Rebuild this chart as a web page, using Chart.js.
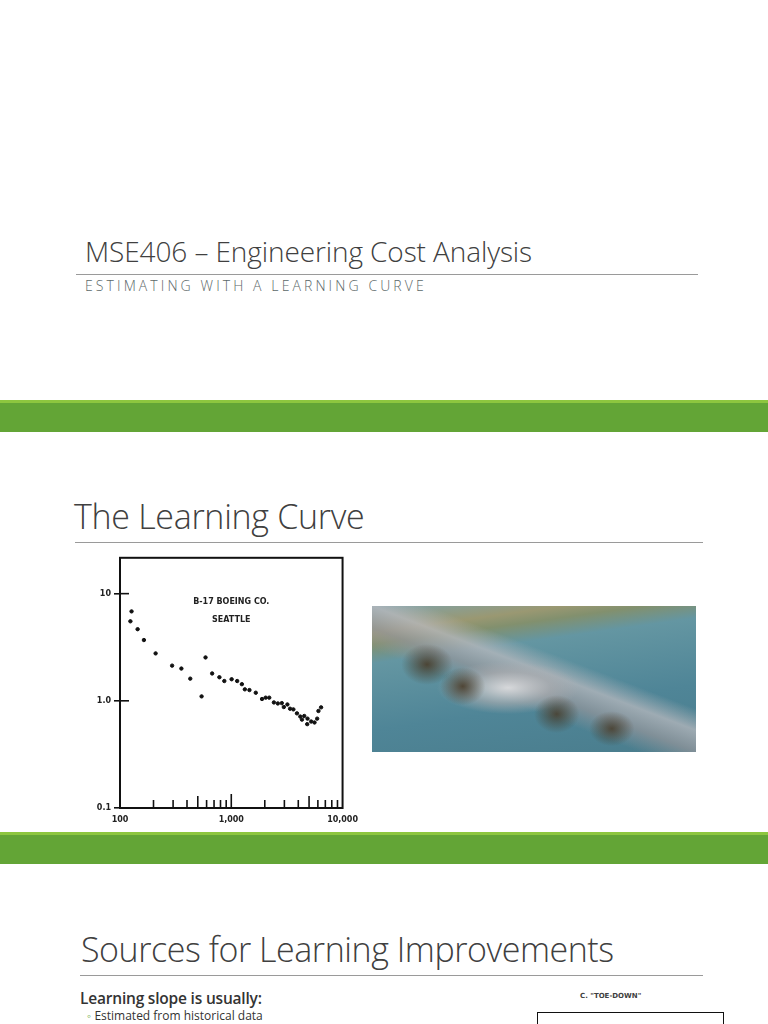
<!DOCTYPE html>
<html>
<head>
<meta charset="utf-8">
<script src="https://cdn.jsdelivr.net/npm/chart.js@4.4.1/dist/chart.umd.min.js"></script>
<style>
  html, body { margin: 0; padding: 0; background: #fff; }
  body { width: 768px; height: 1024px; position: relative; overflow: hidden; font-family: "Open Sans", sans-serif; color: #404040; }
  .abs { position: absolute; white-space: nowrap; }
  .rule { position: absolute; height: 1px; background: #9a9a9a; }
  .band { position: absolute; left: 0; width: 768px; height: 32px; background: #63a536; border-top: 3px solid #8dc63f; box-sizing: border-box; }
  #chartBox { position: absolute; left: 75px; top: 550px; width: 290px; height: 285px; }
  #photo { position: absolute; left: 372px; top: 606px; width: 324px; height: 146px;
    background:
      radial-gradient(ellipse 8% 14% at 17% 40%, rgba(70,55,35,0.85), transparent 100%),
      radial-gradient(ellipse 7% 13% at 28% 55%, rgba(70,55,35,0.85), transparent 100%),
      radial-gradient(ellipse 7% 13% at 57% 74%, rgba(70,55,35,0.8), transparent 100%),
      radial-gradient(ellipse 7% 12% at 74% 84%, rgba(70,55,35,0.8), transparent 100%),
      radial-gradient(ellipse 22% 18% at 42% 56%, rgba(220,220,222,0.95), rgba(175,175,178,0.6) 60%, transparent 100%),
      linear-gradient(201deg, transparent 38%, rgba(185,185,190,0.75) 46%, rgba(150,150,155,0.7) 54%, transparent 62%),
      linear-gradient(172deg, #7ea3ab 0%, #9a9872 14%, #82906e 20%, #6496a2 30%, #4f8597 65%, #4a7d8d 100%); }
</style>
</head>
<body>
  <div class="abs" style="left:85px; top:232px; font-size:28px; font-weight:300; letter-spacing:-0.1px;">MSE406 – Engineering Cost Analysis</div>
  <div class="rule" style="left:76px; top:274px; width:622px;"></div>
  <div class="abs" style="left:85px; top:276px; font-size:14px; font-weight:300; letter-spacing:3.1px; color:#5b6868;">ESTIMATING WITH A LEARNING CURVE</div>

  <div class="band" style="top:400px;"></div>

  <div class="abs" style="left:74px; top:493px; font-size:34px; font-weight:300; letter-spacing:-0.3px;">The Learning Curve</div>
  <div class="rule" style="left:75px; top:542px; width:628px;"></div>

  <div id="chartBox"><canvas id="grafico"></canvas></div>
  <div id="photo"></div>

  <div class="band" style="top:832px;"></div>

  <div class="abs" style="left:81px; top:926px; font-size:34px; font-weight:300; letter-spacing:-0.45px;">Sources for Learning Improvements</div>
  <div class="rule" style="left:80px; top:975px; width:623px;"></div>
  <div class="abs" style="left:80px; top:989px; font-size:15.5px; line-height:18px; font-weight:600; letter-spacing:-0.2px; color:#333;">Learning slope is usually:</div>
  <div class="abs" style="left:87px; top:1008px; font-size:12px; line-height:15px; color:#333;"><span style="color:#63a536;">◦</span> Estimated from historical data</div>
  <div class="abs" style="left:580px; top:992px; font-size:7px; font-weight:bold; font-family:'DejaVu Sans';">C. "TOE-DOWN"</div>
  <div class="abs" style="left:537px; top:1012px; width:185px; height:30px; border:1.5px solid #111;"></div>

<script>
// unidades produzidas (eixo x) e custo relativo (eixo y)
const unidades = [124, 127, 144, 164, 209, 294, 356, 428, 541, 587,
    673, 782, 866, 1007, 1130, 1245, 1324, 1456, 1660, 1889,
    2036, 2194, 2415, 2620, 2844, 2965, 3193, 3374, 3614, 3892,
    4169, 4315, 4528, 4812, 4845, 5224, 5597, 5913, 6071, 6412];
const custos = [5.52, 6.83, 4.66, 3.69, 2.77, 2.13, 2.0, 1.61, 1.10, 2.54,
    1.80, 1.66, 1.53, 1.59, 1.53, 1.43, 1.28, 1.26, 1.19, 1.04,
    1.07, 1.07, 0.966, 0.945, 0.952, 0.875, 0.925, 0.844, 0.832, 0.764,
    0.713, 0.668, 0.722, 0.606, 0.682, 0.641, 0.628, 0.682, 0.804, 0.869];

const ticksX = [100, 200, 300, 400, 500, 600, 700, 800, 900,
    1000, 2000, 3000, 4000, 5000, 6000, 7000, 8000, 9000, 10000];
const rotulosX = { 100: '100', 1000: '1,000', 10000: '10,000' };
const ticksY = [0.1, 1, 10];
const rotulosY = { 0.1: '0.1', 1: '1.0', 10: '10' };
const titulo = ['B-17 BOEING CO.', 'SEATTLE'];

const pontos = unidades.map((u, i) => ({ x: u, y: custos[i] }));

const fonteEixo = { family: 'DejaVu Sans', size: 8, weight: 'bold' };

// moldura, tracos internos e titulo dentro do grafico
const moldura = {
    id: 'moldura',
    afterDraw(chart) {
        const { ctx, chartArea: a, scales } = chart;
        ctx.save();
        ctx.strokeStyle = '#111';
        ctx.lineWidth = 2;
        ctx.strokeRect(a.left, a.top, a.right - a.left, a.bottom - a.top);

        ctx.lineWidth = 1.6;
        ticksY.forEach(v => {
            const y = scales.y.getPixelForValue(v);
            ctx.beginPath();
            ctx.moveTo(a.left, y);
            ctx.lineTo(a.left + 9, y);
            ctx.stroke();
        });
        ticksX.forEach(v => {
            if (v === 100 || v === 10000) return;
            const x = scales.x.getPixelForValue(v);
            let h = 8;
            if (v === 1000) h = 14;
            else if (v === 500 || v === 5000) h = 12;
            ctx.beginPath();
            ctx.moveTo(x, a.bottom);
            ctx.lineTo(x, a.bottom - h);
            ctx.stroke();
        });

        ctx.fillStyle = '#222';
        ctx.font = 'bold 8px "DejaVu Sans"';
        ctx.textAlign = 'center';
        ctx.textBaseline = 'middle';
        const cx = (a.left + a.right) / 2;
        ctx.fillText(titulo[0], cx, a.top + 44);
        ctx.fillText(titulo[1], cx, a.top + 62);
        ctx.restore();
    }
};

const ctxGrafico = document.getElementById('grafico').getContext('2d');
const grafico = new Chart(ctxGrafico, {
    type: 'scatter',
    data: {
        datasets: [{
            data: pontos,
            backgroundColor: '#111',
            borderColor: '#111',
            pointRadius: 1.7,
            pointHoverRadius: 1.7
        }]
    },
    options: {
        responsive: true,
        maintainAspectRatio: false,
        animation: false,
        layout: { padding: { top: 5, right: 20, left: 0, bottom: 0 } },
        plugins: { legend: { display: false }, tooltip: { enabled: false } },
        scales: {
            x: {
                type: 'logarithmic',
                min: 100,
                max: 10000,
                afterBuildTicks: s => { s.ticks = ticksX.map(v => ({ value: v })); },
                afterFit: s => { s.height = 27; },
                grid: { drawOnChartArea: false, drawTicks: false },
                border: { display: false },
                ticks: {
                    autoSkip: false,
                    maxRotation: 0,
                    padding: 7,
                    color: '#222',
                    font: fonteEixo,
                    callback: v => rotulosX[v] || ''
                }
            },
            y: {
                type: 'logarithmic',
                min: 0.1,
                max: 21.6,
                afterBuildTicks: s => { s.ticks = ticksY.map(v => ({ value: v })); },
                afterFit: s => { s.width = 45; },
                grid: { drawOnChartArea: false, drawTicks: true, tickLength: 6, color: '#111', lineWidth: 1.6 },
                border: { display: false },
                ticks: {
                    autoSkip: false,
                    padding: 3,
                    color: '#222',
                    font: fonteEixo,
                    callback: v => rotulosY[v] || ''
                }
            }
        }
    },
    plugins: [moldura]
});
</script>
</body>
</html>
